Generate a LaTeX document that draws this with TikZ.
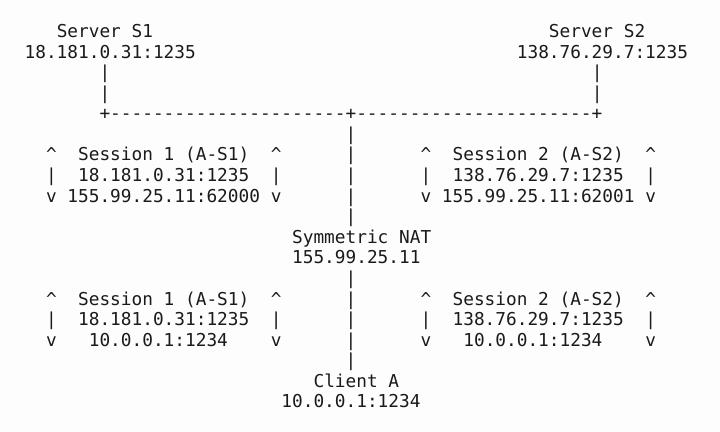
\documentclass[tikz,border=0pt]{standalone}
\usepackage{fontspec}
\newfontfamily\asciimono{DejaVu Sans Mono}
\definecolor{bgcol}{HTML}{FDFDFE}
\definecolor{inkcol}{HTML}{1A1A1A}
\tikzset{
  txt/.style={anchor=base west, inner sep=0pt, outer sep=0pt, text=inkcol,
              font=\asciimono\fontsize{17.77pt}{20.58pt}\selectfont}
}
% column/row placement of one text item of the ASCII drawing
\newcommand\tcell[4]{\node[txt] (#3) at ({24.65+10.7*#1},{393.5-20.58*#2}) {#4};}
\begin{document}
\begin{tikzpicture}[x=1pt,y=1pt]
\fill[bgcol] (0,0) rectangle (720,431);
\useasboundingbox (0,0) rectangle (720,431);
% servers
\tcell{3}{0}{s1name}{Server S1}
\tcell{49}{0}{s2name}{Server S2}
\tcell{0}{1}{s1addr}{18.181.0.31:1235}
\tcell{46}{1}{s2addr}{138.76.29.7:1235}
\tcell{7}{2}{s1pa}{|}
\tcell{53}{2}{s2pa}{|}
\tcell{7}{3}{s1pb}{|}
\tcell{53}{3}{s2pb}{|}
\tcell{7}{4}{bus}{+----------------------+----------------------+}
\tcell{30}{5}{mpa}{|}
% upper sessions
\tcell{2}{6}{ula}{\^{}}
\tcell{5}{6}{ult}{Session 1 (A-S1)}
\tcell{23}{6}{ulb}{\^{}}
\tcell{30}{6}{mpb}{|}
\tcell{37}{6}{ura}{\^{}}
\tcell{40}{6}{urt}{Session 2 (A-S2)}
\tcell{58}{6}{urb}{\^{}}
\tcell{2}{7}{ulc}{|}
\tcell{5}{7}{ulu}{18.181.0.31:1235}
\tcell{23}{7}{uld}{|}
\tcell{30}{7}{mpc}{|}
\tcell{37}{7}{urc}{|}
\tcell{40}{7}{uru}{138.76.29.7:1235}
\tcell{58}{7}{urd}{|}
\tcell{2}{8}{ule}{v}
\tcell{4}{8}{ulv}{155.99.25.11:62000}
\tcell{23}{8}{ulf}{v}
\tcell{30}{8}{mpd}{|}
\tcell{37}{8}{ure}{v}
\tcell{39}{8}{urv}{155.99.25.11:62001}
\tcell{58}{8}{urf}{v}
\tcell{30}{9}{mpe}{|}
% NAT
\tcell{25}{10}{natname}{Symmetric NAT}
\tcell{25}{11}{nataddr}{155.99.25.11}
\tcell{30}{12}{mpf}{|}
% lower sessions
\tcell{2}{13}{lla}{\^{}}
\tcell{5}{13}{llt}{Session 1 (A-S1)}
\tcell{23}{13}{llb}{\^{}}
\tcell{30}{13}{mpg}{|}
\tcell{37}{13}{lra}{\^{}}
\tcell{40}{13}{lrt}{Session 2 (A-S2)}
\tcell{58}{13}{lrb}{\^{}}
\tcell{2}{14}{llc}{|}
\tcell{5}{14}{llu}{18.181.0.31:1235}
\tcell{23}{14}{lld}{|}
\tcell{30}{14}{mph}{|}
\tcell{37}{14}{lrc}{|}
\tcell{40}{14}{lru}{138.76.29.7:1235}
\tcell{58}{14}{lrd}{|}
\tcell{2}{15}{lle}{v}
\tcell{6}{15}{llv}{10.0.0.1:1234}
\tcell{23}{15}{llf}{v}
\tcell{30}{15}{mpi}{|}
\tcell{37}{15}{lre}{v}
\tcell{41}{15}{lrv}{10.0.0.1:1234}
\tcell{58}{15}{lrf}{v}
\tcell{30}{16}{mpj}{|}
% client
\tcell{27}{17}{clname}{Client A}
\tcell{24}{18}{claddr}{10.0.0.1:1234}
\end{tikzpicture}
\end{document}
